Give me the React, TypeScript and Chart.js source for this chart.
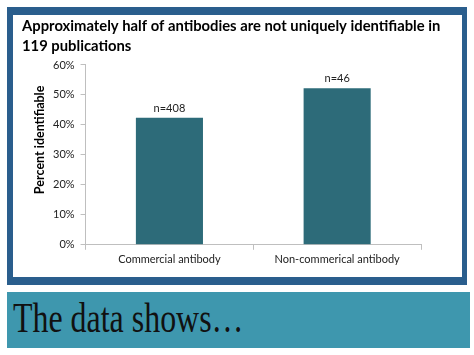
import React, { useEffect, useRef } from "react";
import { Chart, registerables } from "chart.js";

Chart.register(...registerables);

const titleLines = [
  "Approximately half of antibodies are not uniquely identifiable in",
  "119 publications",
];
const categories = ["Commercial antibody", "Non-commerical antibody"];
const percentIdentifiable = [0.424, 0.522];
const sampleSizes = ["n=408", "n=46"];
const yTicks = { min: 0, max: 0.6, step: 0.1 };
const yAxisTitle = "Percent identifiable";
const bannerText = "The data shows…";

const FONT = "Lato, 'Open Sans', sans-serif";
const Y_TITLE_SIZE = 12.5;
const Y_TITLE_PAD = { top: 10, bottom: 0 };

const barLabelPlugin = {
  id: "barLabels",
  afterDatasetsDraw(chart: any) {
    const ctx = chart.ctx;
    const meta = chart.getDatasetMeta(0);
    ctx.save();
    ctx.font = `11px ${FONT}`;
    ctx.fillStyle = "#222";
    ctx.textAlign = "center";
    ctx.textBaseline = "bottom";
    meta.data.forEach((bar: any, i: number) => {
      ctx.fillText(sampleSizes[i], bar.x, bar.y - 4);
    });
    ctx.restore();
  },
};

// y-axis title drawn a little above the plot centre, as in the original slide
const yTitlePlugin = {
  id: "yTitle",
  afterDraw(chart: any) {
    const ctx = chart.ctx;
    const ys = chart.scales.y;
    const lh = Y_TITLE_SIZE * 1.2;
    const x = ys.left + Y_TITLE_PAD.top + lh / 2;
    const y = (chart.chartArea.top + chart.chartArea.bottom) / 2 - 15;
    ctx.save();
    ctx.translate(x, y);
    ctx.rotate(-Math.PI / 2);
    ctx.font = `bold ${Y_TITLE_SIZE}px ${FONT}`;
    ctx.fillStyle = "#000";
    ctx.textAlign = "center";
    ctx.textBaseline = "middle";
    ctx.fillText(yAxisTitle, 0, 0);
    ctx.restore();
  },
};

export default function App() {
  const ref = useRef<HTMLCanvasElement>(null);
  useEffect(() => {
    if (!ref.current) return;
    const chart = new Chart(ref.current, {
      type: "bar",
      data: {
        labels: categories,
        datasets: [
          {
            data: percentIdentifiable,
            backgroundColor: "#2d6b79",
            barPercentage: 0.4,
            categoryPercentage: 1,
          },
        ],
      },
      plugins: [barLabelPlugin, yTitlePlugin],
      options: {
        animation: false,
        responsive: false,
        maintainAspectRatio: false,
        layout: { padding: { left: 9, right: 4, top: 0, bottom: 8 } },
        plugins: {
          legend: { display: false },
          tooltip: { enabled: false },
          title: {
            display: true,
            text: titleLines,
            align: "start",
            color: "#000",
            font: { family: FONT, size: 14.8, weight: "bold", lineHeight: 1.35 },
            padding: { top: 1, bottom: 9 },
          },
        },
        scales: {
          x: {
            grid: {
              display: true,
              drawOnChartArea: false,
              drawTicks: true,
              tickLength: 5,
              color: "#bfbfbf",
            },
            border: { color: "#bfbfbf" },
            ticks: { color: "#222", font: { family: FONT, size: 11 }, padding: 3 },
          },
          y: {
            min: yTicks.min,
            max: yTicks.max,
            grid: {
              display: true,
              drawOnChartArea: false,
              drawTicks: true,
              tickLength: 5,
              color: "#bfbfbf",
            },
            border: { color: "#bfbfbf" },
            ticks: {
              stepSize: yTicks.step,
              color: "#222",
              font: { family: FONT, size: 11 },
              padding: 6,
              callback: (v: any) => `${Math.round(Number(v) * 100)}%`,
            },
            title: {
              display: true,
              text: yAxisTitle,
              color: "rgba(0,0,0,0)",
              font: { family: FONT, size: Y_TITLE_SIZE, weight: "bold", lineHeight: 1.2 },
              padding: Y_TITLE_PAD,
            },
          },
          // empty right-hand spacer so the plot stops short of the frame
          spacer: {
            type: "linear",
            position: "right",
            display: true,
            grid: { display: false },
            border: { display: false },
            ticks: { display: false },
            afterFit: (scale: any) => {
              scale.width = 37;
            },
          },
        },
      },
    });
    return () => chart.destroy();
  }, []);

  return (
    <div style={{ position: "fixed", left: 0, top: 0, width: 474, height: 355, background: "#fff" }}>
      <div
        style={{
          position: "absolute",
          left: 7,
          top: 7,
          width: 449,
          height: 262,
          borderStyle: "solid",
          borderColor: "#2a5e8d",
          borderWidth: "8px 5px 8px 6px",
          background: "#fff",
        }}
      >
        <canvas ref={ref} width={449} height={262} style={{ display: "block" }} />
      </div>
      <div
        style={{
          position: "absolute",
          left: 7,
          top: 292,
          width: 463,
          height: 56,
          background: "#3e97ae",
          overflow: "hidden",
        }}
      >
        <div
          style={{
            position: "absolute",
            left: 6,
            top: 1,
            fontFamily: "'Liberation Serif', serif",
            fontSize: 42,
            lineHeight: "50px",
            color: "#111",
            whiteSpace: "nowrap",
            transform: "scaleX(0.76)",
            transformOrigin: "left center",
          }}
        >
          {bannerText}
        </div>
      </div>
    </div>
  );
}
